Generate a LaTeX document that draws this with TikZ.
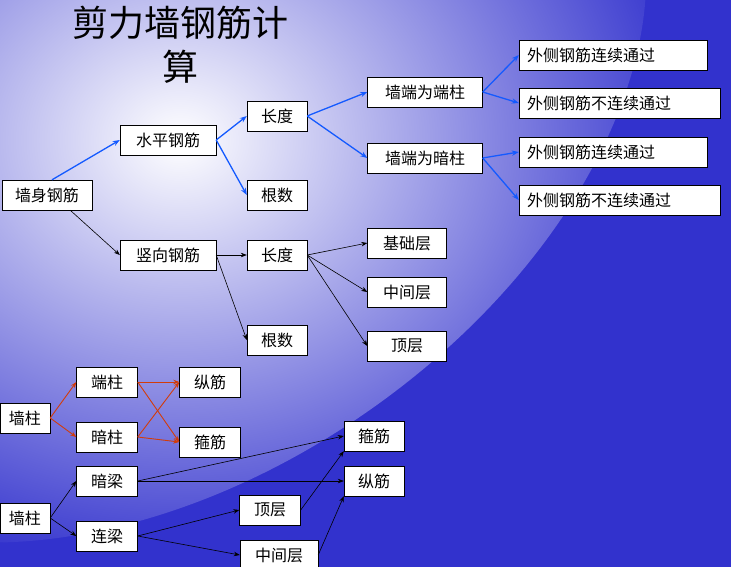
\documentclass[tikz,border=0pt]{standalone}
\usepackage{fontspec}
\setmainfont{Noto Sans CJK SC}
\usetikzlibrary{arrows.meta}
\definecolor{bgblue}{RGB}{50,50,205}
\definecolor{lnblue}{RGB}{20,90,255}
\definecolor{lnred}{RGB}{210,60,10}
\begin{document}
\begin{tikzpicture}[x=1pt,y=-1pt,
 bx/.style={draw=black,fill=white,inner sep=0pt,font=\fontsize{16}{18}\selectfont,minimum height=30pt},
 lt/.style={align=left,text width=#1,inner xsep=8pt},
 bl/.style={draw=lnblue,line width=1.3pt,-{Stealth[length=7pt]}},
 bk/.style={draw=black,line width=0.6pt,-{Stealth[length=6pt]}},
 rd/.style={draw=lnred,line width=0.9pt,-{Stealth[length=6pt]}}]
\useasboundingbox (0,0) rectangle (731,566);
\begin{scope}
\clip (-1,-1) rectangle (732,567);
\fill[bgblue] (-5,-5) rectangle (740,575);
\shade[inner color=white,outer color=bgblue,rotate around={35:(180,140)}] (180,140) ellipse (520 and 330);
\end{scope}
\node[font=\fontsize{36}{44}\selectfont,align=center] (t) at (180,45) {剪力墙钢筋计\\算};
\node[bx,minimum width=90pt] (qs) at (47,195) {墙身钢筋};
\node[bx,minimum width=96pt] (sp) at (168,140) {水平钢筋};
\node[bx,minimum width=96pt] (sx) at (168,255) {竖向钢筋};
\node[bx,minimum width=60pt] (c1) at (277,116) {长度};
\node[bx,minimum width=60pt] (g1) at (277,195) {根数};
\node[bx,minimum width=60pt] (c2) at (277,255) {长度};
\node[bx,minimum width=60pt] (g2) at (277,340) {根数};
\node[bx,minimum width=115pt] (dz) at (425,92) {墙端为端柱};
\node[bx,minimum width=115pt] (az) at (425,158) {墙端为暗柱};
\node[bx,lt=172pt] (w1) at (613,55) {外侧钢筋连续通过};
\node[bx,lt=185pt] (w2) at (619.5,103) {外侧钢筋不连续通过};
\node[bx,lt=172pt] (w3) at (613,152) {外侧钢筋连续通过};
\node[bx,lt=185pt] (w4) at (619.5,200) {外侧钢筋不连续通过};
\node[bx,minimum width=79pt] (jc) at (407,243) {基础层};
\node[bx,minimum width=79pt] (zj) at (407,292) {中间层};
\node[bx,minimum width=79pt] (dc) at (407,346) {顶层};
\node[bx,minimum width=50pt] (qz1) at (25,418) {墙柱};
\node[bx,minimum width=61pt] (dzz) at (107,382) {端柱};
\node[bx,minimum width=61pt] (azz) at (107,437) {暗柱};
\node[bx,minimum width=61pt] (zj1) at (210,382) {纵筋};
\node[bx,minimum width=61pt] (gj1) at (210,442) {箍筋};
\node[bx,minimum width=50pt] (qz2) at (25,518) {墙柱};
\node[bx,minimum width=61pt] (al) at (107,481) {暗梁};
\node[bx,minimum width=61pt] (ll) at (107,536) {连梁};
\node[bx,minimum width=60pt] (gj2) at (374,436) {箍筋};
\node[bx,minimum width=60pt] (zj2) at (374,481) {纵筋};
\node[bx,minimum width=61pt] (dc2) at (270,510) {顶层};
\node[bx,minimum width=78pt] (zc2) at (279,555) {中间层};
\draw[bl] ([xshift=5pt]qs.north) -- (sp.west);
\draw[bl] (sp.east) -- (c1.west);
\draw[bl] (sp.east) -- (g1.west);
\draw[bl] (c1.east) -- (dz.west);
\draw[bl] (c1.east) -- (az.west);
\draw[bl] (dz.east) -- (w1.west);
\draw[bl] (dz.east) -- (w2.west);
\draw[bl] (az.east) -- (w3.west);
\draw[bl] (az.east) -- (w4.west);
\draw[bk] ([xshift=-22pt]qs.south east) -- (sx.west);
\draw[bk] (sx.east) -- (c2.west);
\draw[bk] (sx.east) -- (g2.west);
\draw[bk] (c2.east) -- (jc.west);
\draw[bk] (c2.east) -- (zj.west);
\draw[bk] (c2.east) -- (dc.west);
\draw[rd] (qz1.east) -- (dzz.west);
\draw[rd] (qz1.east) -- (azz.west);
\draw[rd] (dzz.east) -- (zj1.west);
\draw[rd] (dzz.east) -- (gj1.west);
\draw[rd] (azz.east) -- (zj1.west);
\draw[rd] (azz.east) -- (gj1.west);
\draw[bk] (qz2.east) -- (al.west);
\draw[bk] (qz2.east) -- (ll.west);
\draw[bk] (al.east) -- (gj2.west);
\draw[bk] (al.east) -- (zj2.west);
\draw[bk] (ll.east) -- (dc2.west);
\draw[bk] (ll.east) -- (zc2.west);
\draw[bk] (dc2.east) -- (gj2.south west);
\draw[bk] (zc2.east) -- (zj2.south west);
\end{tikzpicture}
\end{document}
